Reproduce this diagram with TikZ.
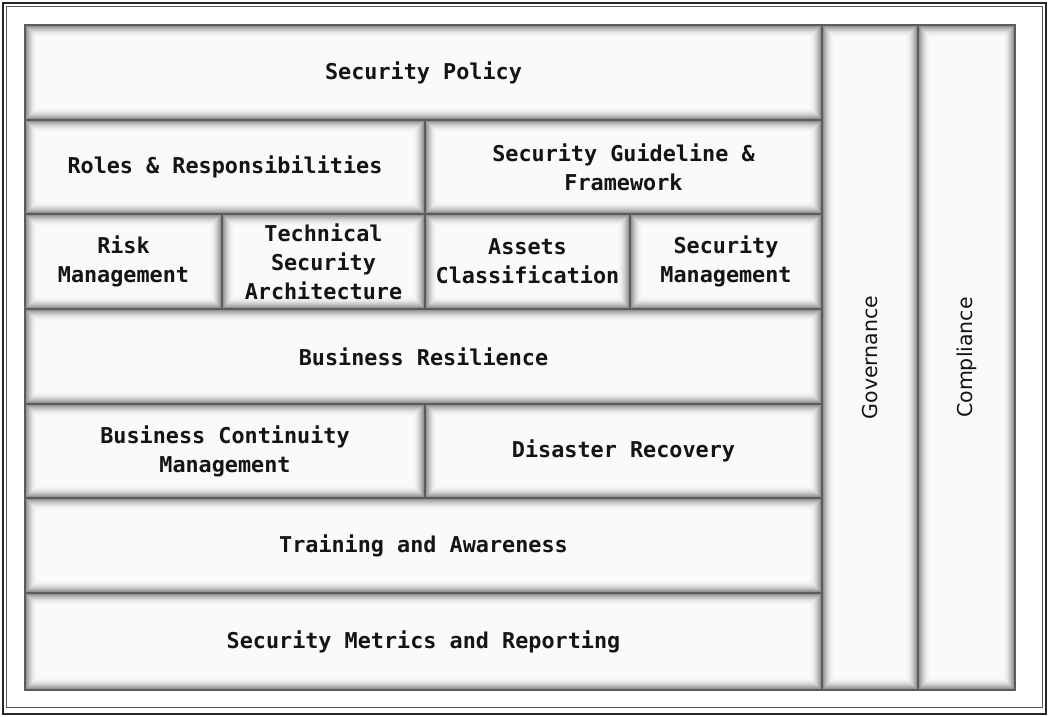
\documentclass[tikz,border=0pt]{standalone}
\usepackage{fontspec}
\setmonofont{DejaVu Sans Mono}
\setsansfont{DejaVu Sans}
\tikzset{
  cell/.style={draw=black!64, line width=2.5pt, fill=black!2, inner sep=0pt,
    align=center, text=black!92,
    font=\ttfamily\bfseries\fontsize{21.8pt}{29pt}\selectfont,
    path picture={
      \foreach \d/\c in {1.5/42,2.5/35,3.5/29,4.5/24,5.5/19,6.5/15,7.5/11,8.5/8,9.5/6,10.5/4,11.5/3}{
        \draw[line width=1.2pt, draw=black!\c]
          ([shift={(\d pt,\d pt)}]path picture bounding box.south west) rectangle
          ([shift={(-\d pt,-\d pt)}]path picture bounding box.north east);
      }}},
}
\newcommand\mycell[6]{%
  \node[cell, minimum width={(#4-#2)*1pt}, minimum height={(#5-#3)*1pt}]
    (#1) at ({(#2+#4)/2},{(#3+#5)/2}) {#6};}
\newcommand\sidetext[1]{\rotatebox{90}{\sffamily\mdseries\fontsize{20.5pt}{24pt}\selectfont #1}}
\begin{document}
\begin{tikzpicture}[x=1pt,y=-1pt]
  \useasboundingbox (0,0) rectangle (1050,717);
  \fill[white] (0,0) rectangle (1050,717);
  % outer frame
  \draw[black!85, line width=1.3pt] (3,3) rectangle (1046,714);
  \draw[black!65, line width=1pt] (6.5,6.5) rectangle (1042,707);
  % rows
  \mycell{policy}{25}{25}{822}{120}{Security Policy}
  \mycell{roles}{25}{120}{425}{214}{Roles \& Responsibilities}
  \mycell{guide}{425}{120}{822}{214}{Security Guideline \&\\Framework}
  \mycell{risk}{25}{214}{222}{309}{Risk\\Management}
  \mycell{tech}{222}{214}{425}{309}{Technical\\Security\\Architecture}
  \mycell{assets}{425}{214}{630}{309}{Assets\\Classification}
  \mycell{secman}{630}{214}{822}{309}{Security\\Management}
  \mycell{resil}{25}{309}{822}{404}{Business Resilience}
  \mycell{bcm}{25}{404}{425}{498}{Business Continuity\\Management}
  \mycell{dr}{425}{404}{822}{498}{Disaster Recovery}
  \mycell{train}{25}{498}{822}{593}{Training and Awareness}
  \mycell{metrics}{25}{593}{822}{690}{Security Metrics and Reporting}
  \mycell{gov}{822}{25}{918}{690}{\sidetext{Governance}}
  \mycell{comp}{918}{25}{1015}{690}{\sidetext{Compliance}}
\end{tikzpicture}
\end{document}
